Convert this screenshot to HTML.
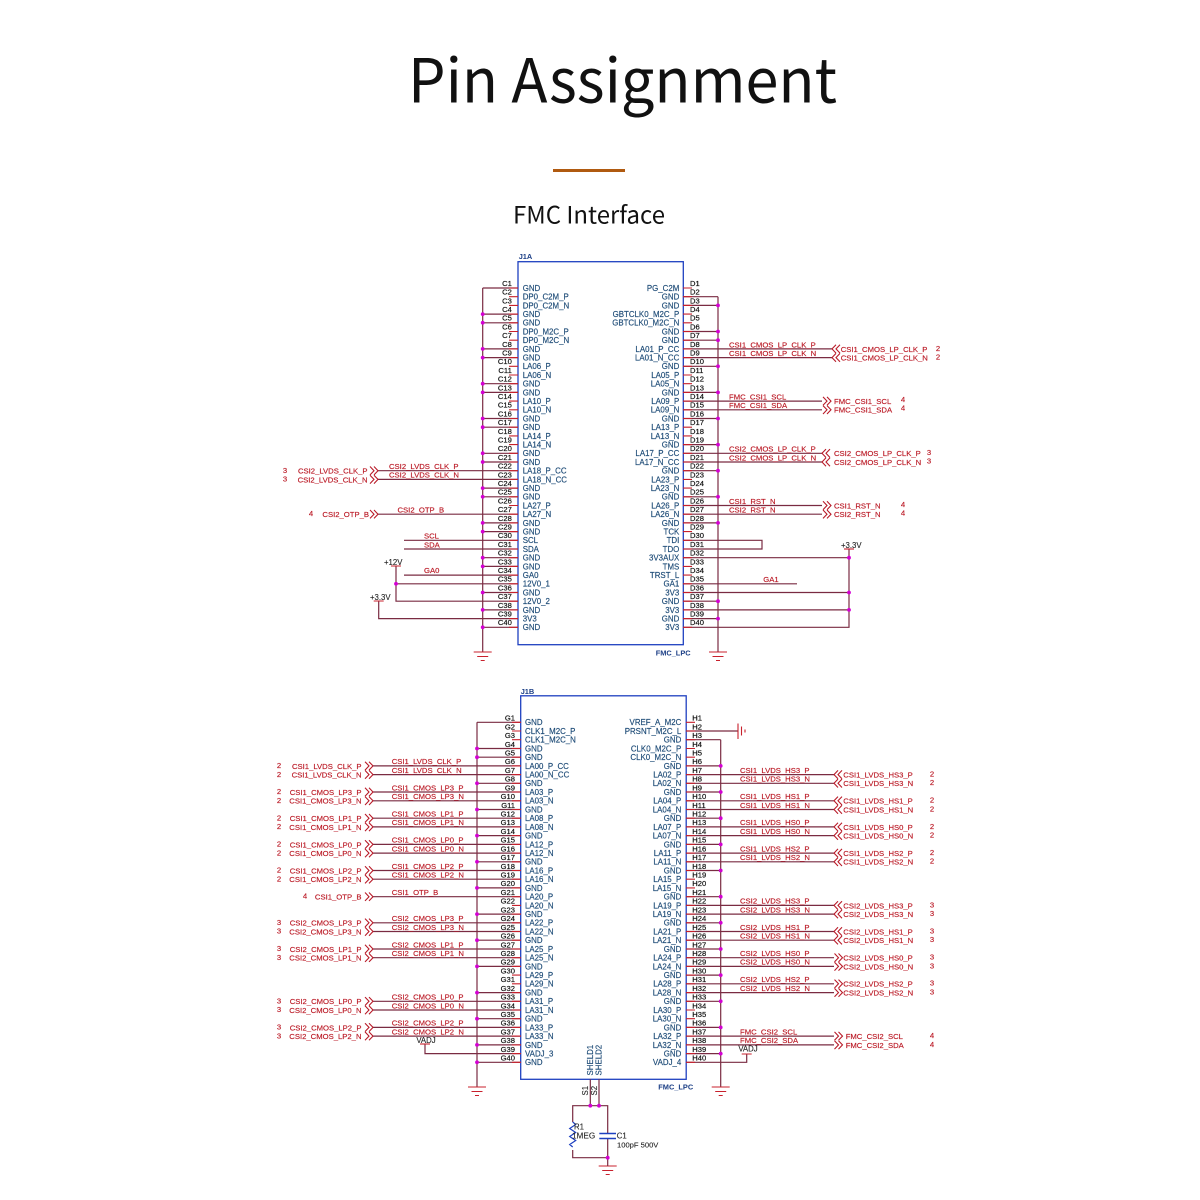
<!DOCTYPE html>
<html><head><meta charset="utf-8"><title>Pin Assignment</title>
<style>
html,body{margin:0;padding:0;background:#fff}
svg{display:block}
text{font-family:"Liberation Sans",sans-serif;dominant-baseline:central}
g text{transform:translateY(.4px)}
.h{font-family:"Noto Sans CJK SC","Liberation Sans",sans-serif;fill:#111;dominant-baseline:auto}
.n{font-size:7.6px;fill:#151515;stroke:#151515;stroke-width:.2}
.p{font-size:7.9px;fill:#1c4a76;stroke:#1c4a76;stroke-width:.15}
.r{font-size:7.7px;fill:#bb1a26;stroke:#bb1a26;stroke-width:.15}
.b{font-size:7.4px;fill:#1c3f86;font-weight:bold}
.k{font-size:7.8px;fill:#222;stroke:#222;stroke-width:.1}
.e{text-anchor:end}
.c{text-anchor:middle}
.w{fill:none;stroke:#7a2b42;stroke-width:1.2}
.s{fill:none;stroke:#c8202c;stroke-width:1.1}
.a{fill:none;stroke:#b81a28;stroke-width:1.1}
.d{fill:#d400d4}
</style></head><body>
<svg xmlns="http://www.w3.org/2000/svg" width="1200" height="1200" viewBox="0 0 1200 1200">
<defs>
<path id="R" d="M-8-4.2l4 4.2-4 4.2M-4-4.2l4 4.2-4 4.2"/>
<path id="L" d="M8-4.2l-4 4.2 4 4.2M4-4.2l-4 4.2 4 4.2"/>
<path id="G" d="M-9 0h18M-5.5 4.5h11M-2 8.5h4"/>
<circle id="o" r="1.9"/>
</defs>
<rect width="1200" height="1200" fill="#fff"/>

<text class="h" x="408" y="102.7" font-size="61" textLength="429" lengthAdjust="spacingAndGlyphs">Pin Assignment</text>
<rect x="553" y="169" width="72" height="3" fill="#b05a10"/>
<text class="h" x="513" y="223.3" font-size="24" textLength="152" lengthAdjust="spacingAndGlyphs">FMC Interface</text>

<!-- J1A -->
<rect x="518" y="261.7" width="165.3" height="383" fill="none" stroke="#1e40c0" stroke-width="1.3"/>
<text class="b" x="518.7" y="256.7">J1A</text>
<text class="b" x="655.7" y="653">FMC_LPC</text>

<path class="w" d="M482.7 288V652M482.7 288H518M482.7 314.1H518M482.7 322.8H518M482.7 348.9H518M482.7 357.6H518M482.7 383.7H518M482.7 392.4H518M482.7 418.5H518M482.7 427.2H518M482.7 453.3H518M482.7 462H518M482.7 488.1H518M482.7 496.8H518M482.7 522.9H518M482.7 531.6H518M482.7 557.7H518M482.7 566.4H518M482.7 592.5H518M482.7 609.9H518M482.7 627.3H518M378 470.7H518M378 479.4H518M378 514.2H518M404 540.3H518M404 549H518M404 575.1H518M396 566V601.2H518M396 583.8H518M378.7 601V618.6H518"/>
<path class="s" d="M391 566h10M373.7 601h10"/>
<path class="w" d="M718 296.7V652M683 296.7H718M683 305.4H718M683 331.5H718M683 340.2H718M683 366.3H718M683 392.4H718M683 418.5H718M683 444.6H718M683 470.7H718M683 496.8H718M683 522.9H718M683 601.2H718M683 618.6H718M683 348.9H832M683 357.6H832M683 401.1H822M683 409.8H822M683 453.3H822M683 462H822M683 505.5H822M683 514.2H822M683 540.3H762V549H683M683 557.7H849M849 549V627.3H683M683 592.5H849M683 609.9H849M683 583.8H797"/>
<path class="s" d="M844 549h10"/>
<!-- J1A stubs -->
<path class="s" d="M509 288h9M509 296.7h9M509 305.4h9M509 314.1h9M509 322.8h9M509 331.5h9M509 340.2h9M509 348.9h9M509 357.6h9M509 366.3h9M509 375h9M509 383.7h9M509 392.4h9M509 401.1h9M509 409.8h9M509 418.5h9M509 427.2h9M509 435.9h9M509 444.6h9M509 453.3h9M509 462h9M509 470.7h9M509 479.4h9M509 488.1h9M509 496.8h9M509 505.5h9M509 514.2h9M509 522.9h9M509 531.6h9M509 540.3h9M509 549h9M509 557.7h9M509 566.4h9M509 575.1h9M509 583.8h9M509 592.5h9M509 601.2h9M509 609.9h9M509 618.6h9M509 627.3h9"/>
<path class="s" d="M683 288h9M683 296.7h9M683 305.4h9M683 314.1h9M683 322.8h9M683 331.5h9M683 340.2h9M683 348.9h9M683 357.6h9M683 366.3h9M683 375h9M683 383.7h9M683 392.4h9M683 401.1h9M683 409.8h9M683 418.5h9M683 427.2h9M683 435.9h9M683 444.6h9M683 453.3h9M683 462h9M683 470.7h9M683 479.4h9M683 488.1h9M683 496.8h9M683 505.5h9M683 514.2h9M683 522.9h9M683 531.6h9M683 540.3h9M683 549h9M683 557.7h9M683 566.4h9M683 575.1h9M683 583.8h9M683 592.5h9M683 601.2h9M683 609.9h9M683 618.6h9M683 627.3h9"/>

<g class="s"><use href="#G" x="482.7" y="652"/><use href="#G" x="718" y="652"/></g>
<g class="d">
<g transform="translate(482.7,0)"><use href="#o" y="314.1"/><use href="#o" y="322.8"/><use href="#o" y="348.9"/><use href="#o" y="357.6"/><use href="#o" y="383.7"/><use href="#o" y="392.4"/><use href="#o" y="418.5"/><use href="#o" y="427.2"/><use href="#o" y="453.3"/><use href="#o" y="462"/><use href="#o" y="488.1"/><use href="#o" y="496.8"/><use href="#o" y="522.9"/><use href="#o" y="531.6"/><use href="#o" y="557.7"/><use href="#o" y="566.4"/><use href="#o" y="592.5"/><use href="#o" y="609.9"/><use href="#o" y="627.3"/></g>
<use href="#o" x="396" y="583.8"/>
<g transform="translate(718,0)"><use href="#o" y="305.4"/><use href="#o" y="331.5"/><use href="#o" y="340.2"/><use href="#o" y="366.3"/><use href="#o" y="392.4"/><use href="#o" y="418.5"/><use href="#o" y="444.6"/><use href="#o" y="470.7"/><use href="#o" y="496.8"/><use href="#o" y="522.9"/><use href="#o" y="601.2"/><use href="#o" y="618.6"/></g>
<g transform="translate(849,0)"><use href="#o" y="557.7"/><use href="#o" y="592.5"/><use href="#o" y="609.9"/></g>
</g>

<g class="n e" transform="translate(511.8,-5)"><text y="288">C1</text><text y="296.7">C2</text><text y="305.4">C3</text><text y="314.1">C4</text><text y="322.8">C5</text><text y="331.5">C6</text><text y="340.2">C7</text><text y="348.9">C8</text><text y="357.6">C9</text><text y="366.3">C10</text><text y="375">C11</text><text y="383.7">C12</text><text y="392.4">C13</text><text y="401.1">C14</text><text y="409.8">C15</text><text y="418.5">C16</text><text y="427.2">C17</text><text y="435.9">C18</text><text y="444.6">C19</text><text y="453.3">C20</text><text y="462">C21</text><text y="470.7">C22</text><text y="479.4">C23</text><text y="488.1">C24</text><text y="496.8">C25</text><text y="505.5">C26</text><text y="514.2">C27</text><text y="522.9">C28</text><text y="531.6">C29</text><text y="540.3">C30</text><text y="549">C31</text><text y="557.7">C32</text><text y="566.4">C33</text><text y="575.1">C34</text><text y="583.8">C35</text><text y="592.5">C36</text><text y="601.2">C37</text><text y="609.9">C38</text><text y="618.6">C39</text><text y="627.3">C40</text></g>
<g class="p" transform="translate(522.7,0)"><text y="288">GND</text><text y="296.7">DP0_C2M_P</text><text y="305.4">DP0_C2M_N</text><text y="314.1">GND</text><text y="322.8">GND</text><text y="331.5">DP0_M2C_P</text><text y="340.2">DP0_M2C_N</text><text y="348.9">GND</text><text y="357.6">GND</text><text y="366.3">LA06_P</text><text y="375">LA06_N</text><text y="383.7">GND</text><text y="392.4">GND</text><text y="401.1">LA10_P</text><text y="409.8">LA10_N</text><text y="418.5">GND</text><text y="427.2">GND</text><text y="435.9">LA14_P</text><text y="444.6">LA14_N</text><text y="453.3">GND</text><text y="462">GND</text><text y="470.7">LA18_P_CC</text><text y="479.4">LA18_N_CC</text><text y="488.1">GND</text><text y="496.8">GND</text><text y="505.5">LA27_P</text><text y="514.2">LA27_N</text><text y="522.9">GND</text><text y="531.6">GND</text><text y="540.3">SCL</text><text y="549">SDA</text><text y="557.7">GND</text><text y="566.4">GND</text><text y="575.1">GA0</text><text y="583.8">12V0_1</text><text y="592.5">GND</text><text y="601.2">12V0_2</text><text y="609.9">GND</text><text y="618.6">3V3</text><text y="627.3">GND</text></g>
<g class="n" transform="translate(690,-5)"><text y="288">D1</text><text y="296.7">D2</text><text y="305.4">D3</text><text y="314.1">D4</text><text y="322.8">D5</text><text y="331.5">D6</text><text y="340.2">D7</text><text y="348.9">D8</text><text y="357.6">D9</text><text y="366.3">D10</text><text y="375">D11</text><text y="383.7">D12</text><text y="392.4">D13</text><text y="401.1">D14</text><text y="409.8">D15</text><text y="418.5">D16</text><text y="427.2">D17</text><text y="435.9">D18</text><text y="444.6">D19</text><text y="453.3">D20</text><text y="462">D21</text><text y="470.7">D22</text><text y="479.4">D23</text><text y="488.1">D24</text><text y="496.8">D25</text><text y="505.5">D26</text><text y="514.2">D27</text><text y="522.9">D28</text><text y="531.6">D29</text><text y="540.3">D30</text><text y="549">D31</text><text y="557.7">D32</text><text y="566.4">D33</text><text y="575.1">D34</text><text y="583.8">D35</text><text y="592.5">D36</text><text y="601.2">D37</text><text y="609.9">D38</text><text y="618.6">D39</text><text y="627.3">D40</text></g>
<g class="p e" transform="translate(679.3,0)"><text y="288">PG_C2M</text><text y="296.7">GND</text><text y="305.4">GND</text><text y="314.1">GBTCLK0_M2C_P</text><text y="322.8">GBTCLK0_M2C_N</text><text y="331.5">GND</text><text y="340.2">GND</text><text y="348.9">LA01_P_CC</text><text y="357.6">LA01_N_CC</text><text y="366.3">GND</text><text y="375">LA05_P</text><text y="383.7">LA05_N</text><text y="392.4">GND</text><text y="401.1">LA09_P</text><text y="409.8">LA09_N</text><text y="418.5">GND</text><text y="427.2">LA13_P</text><text y="435.9">LA13_N</text><text y="444.6">GND</text><text y="453.3">LA17_P_CC</text><text y="462">LA17_N_CC</text><text y="470.7">GND</text><text y="479.4">LA23_P</text><text y="488.1">LA23_N</text><text y="496.8">GND</text><text y="505.5">LA26_P</text><text y="514.2">LA26_N</text><text y="522.9">GND</text><text y="531.6">TCK</text><text y="540.3">TDI</text><text y="549">TDO</text><text y="557.7">3V3AUX</text><text y="566.4">TMS</text><text y="575.1">TRST_L</text><text y="583.8">GA1</text><text y="592.5">3V3</text><text y="601.2">GND</text><text y="609.9">3V3</text><text y="618.6">GND</text><text y="627.3">3V3</text></g>

<!-- J1A nets -->
<g class="a"><use href="#R" x="378" y="470.7"/><use href="#R" x="378" y="479.4"/><use href="#R" x="378" y="514.2"/>
<use href="#L" x="832" y="348.9"/><use href="#L" x="832" y="357.6"/><use href="#R" x="831" y="401.1"/><use href="#R" x="831" y="409.8"/><use href="#L" x="822" y="453.3"/><use href="#L" x="822" y="462"/><use href="#R" x="831" y="505.5"/><use href="#R" x="831" y="514.2"/></g>
<g class="r">
<text x="285" y="470" class="c">3</text><text x="285" y="478.7" class="c">3</text>
<text x="367.5" y="470.7" class="e">CSI2_LVDS_CLK_P</text><text x="367.5" y="479.4" class="e">CSI2_LVDS_CLK_N</text>
<text x="389" y="466">CSI2_LVDS_CLK_P</text><text x="389" y="474.7">CSI2_LVDS_CLK_N</text>
<text x="311" y="513" class="c">4</text><text x="369" y="514.2" class="e">CSI2_OTP_B</text><text x="397.5" y="509.5">CSI2_OTP_B</text>
<text x="424" y="535.7">SCL</text><text x="424" y="544.5">SDA</text><text x="424" y="570.3">GA0</text>
<text x="729" y="344.4">CSI1_CMOS_LP_CLK_P</text><text x="729" y="353.1">CSI1_CMOS_LP_CLK_N</text>
<text x="840.7" y="348.9">CSI1_CMOS_LP_CLK_P</text><text x="840.7" y="357.6">CSI1_CMOS_LP_CLK_N</text>
<text x="938" y="348" class="c">2</text><text x="938" y="356.7" class="c">2</text>
<text x="729" y="396.6">FMC_CSI1_SCL</text><text x="729" y="405.3">FMC_CSI1_SDA</text>
<text x="834" y="401.1">FMC_CSI1_SCL</text><text x="834" y="409.8">FMC_CSI1_SDA</text>
<text x="903" y="399" class="c">4</text><text x="903" y="407.7" class="c">4</text>
<text x="729" y="448.8">CSI2_CMOS_LP_CLK_P</text><text x="729" y="457.5">CSI2_CMOS_LP_CLK_N</text>
<text x="834" y="453.3">CSI2_CMOS_LP_CLK_P</text><text x="834" y="462">CSI2_CMOS_LP_CLK_N</text>
<text x="929" y="452" class="c">3</text><text x="929" y="460.7" class="c">3</text>
<text x="729" y="501">CSI1_RST_N</text><text x="729" y="509.7">CSI2_RST_N</text>
<text x="834" y="505.5">CSI1_RST_N</text><text x="834" y="514.2">CSI2_RST_N</text>
<text x="903" y="504" class="c">4</text><text x="903" y="512.7" class="c">4</text>
<text x="763.3" y="579.3">GA1</text>
</g>
<g class="k"><text x="384" y="562">+12V</text><text x="370" y="597">+3.3V</text><text x="841" y="545">+3.3V</text></g>

<!-- J1B -->
<rect x="520.7" y="695.8" width="165.5" height="383.5" fill="none" stroke="#1e40c0" stroke-width="1.3"/>
<text class="b" x="520.7" y="691.7">J1B</text>
<text class="b" x="658.3" y="1087">FMC_LPC</text>

<path class="w" d="M477 722.3V1087M477 722.3H520.7M477 748.5H520.7M477 757.2H520.7M477 783.3H520.7M477 809.5H520.7M477 835.6H520.7M477 861.8H520.7M477 887.9H520.7M477 914.1H520.7M477 940.2H520.7M477 966.4H520.7M477 992.6H520.7M477 1018.7H520.7M477 1044.9H520.7M477 1062.3H520.7M373 765.9H520.7M373 774.6H520.7M373 792H520.7M373 800.8H520.7M373 818.2H520.7M373 826.9H520.7M373 844.4H520.7M373 853.1H520.7M373 870.5H520.7M373 879.2H520.7M373 896.7H520.7M373 922.8H520.7M373 931.5H520.7M373 949H520.7M373 957.7H520.7M373 1001.3H520.7M373 1010H520.7M373 1027.4H520.7M373 1036.1H520.7M425 1044V1053.6H520.7"/>
<path class="s" d="M420 1044h10"/>
<path class="w" d="M720.7 739.7V1087M686 739.7H720.7M686 765.9H720.7M686 792H720.7M686 818.2H720.7M686 844.4H720.7M686 870.5H720.7M686 896.7H720.7M686 922.8H720.7M686 949H720.7M686 975.1H720.7M686 1001.3H720.7M686 1027.4H720.7M686 1053.6H720.7M686 731H738M686 774.6H834M686 783.3H834M686 800.8H834M686 809.5H834M686 826.9H834M686 835.6H834M686 853.1H834M686 861.8H834M686 905.4H834M686 914.1H834M686 931.5H834M686 940.2H834M686 957.7H834M686 966.4H834M686 983.8H834M686 992.6H834M686 1036.1H834M686 1044.9H834M686 1062.3H746.7V1054"/>
<path class="s" d="M741.7 1054h10M738 723.5v15.5M741.5 726.5v9M745 729.5v3"/>
<!-- J1B stubs -->
<path class="s" d="M512 722.3h9M512 731h9M512 739.7h9M512 748.5h9M512 757.2h9M512 765.9h9M512 774.6h9M512 783.3h9M512 792h9M512 800.8h9M512 809.5h9M512 818.2h9M512 826.9h9M512 835.6h9M512 844.4h9M512 853.1h9M512 861.8h9M512 870.5h9M512 879.2h9M512 887.9h9M512 896.7h9M512 905.4h9M512 914.1h9M512 922.8h9M512 931.5h9M512 940.2h9M512 949h9M512 957.7h9M512 966.4h9M512 975.1h9M512 983.8h9M512 992.6h9M512 1001.3h9M512 1010h9M512 1018.7h9M512 1027.4h9M512 1036.1h9M512 1044.9h9M512 1053.6h9M512 1062.3h9"/>
<path class="s" d="M686 722.3h9M686 731h9M686 739.7h9M686 748.5h9M686 757.2h9M686 765.9h9M686 774.6h9M686 783.3h9M686 792h9M686 800.8h9M686 809.5h9M686 818.2h9M686 826.9h9M686 835.6h9M686 844.4h9M686 853.1h9M686 861.8h9M686 870.5h9M686 879.2h9M686 887.9h9M686 896.7h9M686 905.4h9M686 914.1h9M686 922.8h9M686 931.5h9M686 940.2h9M686 949h9M686 957.7h9M686 966.4h9M686 975.1h9M686 983.8h9M686 992.6h9M686 1001.3h9M686 1010h9M686 1018.7h9M686 1027.4h9M686 1036.1h9M686 1044.9h9M686 1053.6h9M686 1062.3h9"/>
<g class="s"><use href="#G" x="477" y="1087"/><use href="#G" x="720.7" y="1087"/><use href="#G" x="607.7" y="1166"/></g>

<g class="d">
<g transform="translate(477,0)"><use href="#o" y="748.5"/><use href="#o" y="757.2"/><use href="#o" y="783.3"/><use href="#o" y="809.5"/><use href="#o" y="835.6"/><use href="#o" y="861.8"/><use href="#o" y="887.9"/><use href="#o" y="914.1"/><use href="#o" y="940.2"/><use href="#o" y="966.4"/><use href="#o" y="992.6"/><use href="#o" y="1018.7"/><use href="#o" y="1044.9"/><use href="#o" y="1062.3"/></g>
<g transform="translate(720.7,0)"><use href="#o" y="765.9"/><use href="#o" y="792"/><use href="#o" y="818.2"/><use href="#o" y="844.4"/><use href="#o" y="870.5"/><use href="#o" y="896.7"/><use href="#o" y="922.8"/><use href="#o" y="949"/><use href="#o" y="975.1"/><use href="#o" y="1001.3"/><use href="#o" y="1027.4"/><use href="#o" y="1053.6"/></g>
</g>

<g class="n e" transform="translate(515,-4.6)"><text y="722.3">G1</text><text y="731">G2</text><text y="739.7">G3</text><text y="748.5">G4</text><text y="757.2">G5</text><text y="765.9">G6</text><text y="774.6">G7</text><text y="783.3">G8</text><text y="792">G9</text><text y="800.8">G10</text><text y="809.5">G11</text><text y="818.2">G12</text><text y="826.9">G13</text><text y="835.6">G14</text><text y="844.4">G15</text><text y="853.1">G16</text><text y="861.8">G17</text><text y="870.5">G18</text><text y="879.2">G19</text><text y="887.9">G20</text><text y="896.7">G21</text><text y="905.4">G22</text><text y="914.1">G23</text><text y="922.8">G24</text><text y="931.5">G25</text><text y="940.2">G26</text><text y="949">G27</text><text y="957.7">G28</text><text y="966.4">G29</text><text y="975.1">G30</text><text y="983.8">G31</text><text y="992.6">G32</text><text y="1001.3">G33</text><text y="1010">G34</text><text y="1018.7">G35</text><text y="1027.4">G36</text><text y="1036.1">G37</text><text y="1044.9">G38</text><text y="1053.6">G39</text><text y="1062.3">G40</text></g>
<g class="p" transform="translate(525,0)"><text y="722.3">GND</text><text y="731">CLK1_M2C_P</text><text y="739.7">CLK1_M2C_N</text><text y="748.5">GND</text><text y="757.2">GND</text><text y="765.9">LA00_P_CC</text><text y="774.6">LA00_N_CC</text><text y="783.3">GND</text><text y="792">LA03_P</text><text y="800.8">LA03_N</text><text y="809.5">GND</text><text y="818.2">LA08_P</text><text y="826.9">LA08_N</text><text y="835.6">GND</text><text y="844.4">LA12_P</text><text y="853.1">LA12_N</text><text y="861.8">GND</text><text y="870.5">LA16_P</text><text y="879.2">LA16_N</text><text y="887.9">GND</text><text y="896.7">LA20_P</text><text y="905.4">LA20_N</text><text y="914.1">GND</text><text y="922.8">LA22_P</text><text y="931.5">LA22_N</text><text y="940.2">GND</text><text y="949">LA25_P</text><text y="957.7">LA25_N</text><text y="966.4">GND</text><text y="975.1">LA29_P</text><text y="983.8">LA29_N</text><text y="992.6">GND</text><text y="1001.3">LA31_P</text><text y="1010">LA31_N</text><text y="1018.7">GND</text><text y="1027.4">LA33_P</text><text y="1036.1">LA33_N</text><text y="1044.9">GND</text><text y="1053.6">VADJ_3</text><text y="1062.3">GND</text></g>
<g class="n" transform="translate(692.3,-4.6)"><text y="722.3">H1</text><text y="731">H2</text><text y="739.7">H3</text><text y="748.5">H4</text><text y="757.2">H5</text><text y="765.9">H6</text><text y="774.6">H7</text><text y="783.3">H8</text><text y="792">H9</text><text y="800.8">H10</text><text y="809.5">H11</text><text y="818.2">H12</text><text y="826.9">H13</text><text y="835.6">H14</text><text y="844.4">H15</text><text y="853.1">H16</text><text y="861.8">H17</text><text y="870.5">H18</text><text y="879.2">H19</text><text y="887.9">H20</text><text y="896.7">H21</text><text y="905.4">H22</text><text y="914.1">H23</text><text y="922.8">H24</text><text y="931.5">H25</text><text y="940.2">H26</text><text y="949">H27</text><text y="957.7">H28</text><text y="966.4">H29</text><text y="975.1">H30</text><text y="983.8">H31</text><text y="992.6">H32</text><text y="1001.3">H33</text><text y="1010">H34</text><text y="1018.7">H35</text><text y="1027.4">H36</text><text y="1036.1">H37</text><text y="1044.9">H38</text><text y="1053.6">H39</text><text y="1062.3">H40</text></g>
<g class="p e" transform="translate(681.3,0)"><text y="722.3">VREF_A_M2C</text><text y="731">PRSNT_M2C_L</text><text y="739.7">GND</text><text y="748.5">CLK0_M2C_P</text><text y="757.2">CLK0_M2C_N</text><text y="765.9">GND</text><text y="774.6">LA02_P</text><text y="783.3">LA02_N</text><text y="792">GND</text><text y="800.8">LA04_P</text><text y="809.5">LA04_N</text><text y="818.2">GND</text><text y="826.9">LA07_P</text><text y="835.6">LA07_N</text><text y="844.4">GND</text><text y="853.1">LA11_P</text><text y="861.8">LA11_N</text><text y="870.5">GND</text><text y="879.2">LA15_P</text><text y="887.9">LA15_N</text><text y="896.7">GND</text><text y="905.4">LA19_P</text><text y="914.1">LA19_N</text><text y="922.8">GND</text><text y="931.5">LA21_P</text><text y="940.2">LA21_N</text><text y="949">GND</text><text y="957.7">LA24_P</text><text y="966.4">LA24_N</text><text y="975.1">GND</text><text y="983.8">LA28_P</text><text y="992.6">LA28_N</text><text y="1001.3">GND</text><text y="1010">LA30_P</text><text y="1018.7">LA30_N</text><text y="1027.4">GND</text><text y="1036.1">LA32_P</text><text y="1044.9">LA32_N</text><text y="1053.6">GND</text><text y="1062.3">VADJ_4</text></g>

<!-- J1B left nets -->
<g class="a" transform="translate(373,0)"><use href="#R" y="765.9"/><use href="#R" y="774.6"/><use href="#R" y="792"/><use href="#R" y="800.8"/><use href="#R" y="818.2"/><use href="#R" y="826.9"/><use href="#R" y="844.4"/><use href="#R" y="853.1"/><use href="#R" y="870.5"/><use href="#R" y="879.2"/><use href="#R" y="896.7"/><use href="#R" y="922.8"/><use href="#R" y="931.5"/><use href="#R" y="949"/><use href="#R" y="957.7"/><use href="#R" y="1001.3"/><use href="#R" y="1010"/><use href="#R" y="1027.4"/><use href="#R" y="1036.1"/></g>
<g class="r e" transform="translate(361.5,0)"><text y="765.9">CSI1_LVDS_CLK_P</text><text y="774.6">CSI1_LVDS_CLK_N</text><text y="792">CSI1_CMOS_LP3_P</text><text y="800.8">CSI1_CMOS_LP3_N</text><text y="818.2">CSI1_CMOS_LP1_P</text><text y="826.9">CSI1_CMOS_LP1_N</text><text y="844.4">CSI1_CMOS_LP0_P</text><text y="853.1">CSI1_CMOS_LP0_N</text><text y="870.5">CSI1_CMOS_LP2_P</text><text y="879.2">CSI1_CMOS_LP2_N</text><text y="896.7">CSI1_OTP_B</text><text y="922.8">CSI2_CMOS_LP3_P</text><text y="931.5">CSI2_CMOS_LP3_N</text><text y="949">CSI2_CMOS_LP1_P</text><text y="957.7">CSI2_CMOS_LP1_N</text><text y="1001.3">CSI2_CMOS_LP0_P</text><text y="1010">CSI2_CMOS_LP0_N</text><text y="1027.4">CSI2_CMOS_LP2_P</text><text y="1036.1">CSI2_CMOS_LP2_N</text></g>
<g class="r" transform="translate(391.7,-4.6)"><text y="765.9">CSI1_LVDS_CLK_P</text><text y="774.6">CSI1_LVDS_CLK_N</text><text y="792">CSI1_CMOS_LP3_P</text><text y="800.8">CSI1_CMOS_LP3_N</text><text y="818.2">CSI1_CMOS_LP1_P</text><text y="826.9">CSI1_CMOS_LP1_N</text><text y="844.4">CSI1_CMOS_LP0_P</text><text y="853.1">CSI1_CMOS_LP0_N</text><text y="870.5">CSI1_CMOS_LP2_P</text><text y="879.2">CSI1_CMOS_LP2_N</text><text y="896.7">CSI1_OTP_B</text><text y="922.8">CSI2_CMOS_LP3_P</text><text y="931.5">CSI2_CMOS_LP3_N</text><text y="949">CSI2_CMOS_LP1_P</text><text y="957.7">CSI2_CMOS_LP1_N</text><text y="1001.3">CSI2_CMOS_LP0_P</text><text y="1010">CSI2_CMOS_LP0_N</text><text y="1027.4">CSI2_CMOS_LP2_P</text><text y="1036.1">CSI2_CMOS_LP2_N</text></g>
<g class="r c" transform="translate(279,-.7)"><text y="765.9">2</text><text y="774.6">2</text><text y="792">2</text><text y="800.8">2</text><text y="818.2">2</text><text y="826.9">2</text><text y="844.4">2</text><text y="853.1">2</text><text y="870.5">2</text><text y="879.2">2</text><text y="922.8">3</text><text y="931.5">3</text><text y="949">3</text><text y="957.7">3</text><text y="1001.3">3</text><text y="1010">3</text><text y="1027.4">3</text><text y="1036.1">3</text></g>
<text class="r c" x="305" y="896">4</text>
<text class="k c" x="426" y="1040.7">VADJ</text>

<!-- J1B right nets -->
<g class="a"><g transform="translate(834,0)"><use href="#L" y="774.6"/><use href="#L" y="783.3"/><use href="#L" y="800.8"/><use href="#L" y="809.5"/><use href="#L" y="826.9"/><use href="#L" y="835.6"/><use href="#L" y="853.1"/><use href="#L" y="861.8"/><use href="#L" y="905.4"/><use href="#L" y="914.1"/><use href="#L" y="931.5"/><use href="#L" y="940.2"/></g>
<g transform="translate(842.5,0)"><use href="#R" y="957.7"/><use href="#R" y="966.4"/><use href="#R" y="983.8"/><use href="#R" y="992.6"/><use href="#R" y="1036.1"/><use href="#R" y="1044.9"/></g></g>
<g class="r" transform="translate(740,-4.6)"><text y="774.6">CSI1_LVDS_HS3_P</text><text y="783.3">CSI1_LVDS_HS3_N</text><text y="800.8">CSI1_LVDS_HS1_P</text><text y="809.5">CSI1_LVDS_HS1_N</text><text y="826.9">CSI1_LVDS_HS0_P</text><text y="835.6">CSI1_LVDS_HS0_N</text><text y="853.1">CSI1_LVDS_HS2_P</text><text y="861.8">CSI1_LVDS_HS2_N</text><text y="905.4">CSI2_LVDS_HS3_P</text><text y="914.1">CSI2_LVDS_HS3_N</text><text y="931.5">CSI2_LVDS_HS1_P</text><text y="940.2">CSI2_LVDS_HS1_N</text><text y="957.7">CSI2_LVDS_HS0_P</text><text y="966.4">CSI2_LVDS_HS0_N</text><text y="983.8">CSI2_LVDS_HS2_P</text><text y="992.6">CSI2_LVDS_HS2_N</text><text y="1036.1">FMC_CSI2_SCL</text><text y="1044.9">FMC_CSI2_SDA</text></g>
<g class="r" transform="translate(843.3,0)"><text y="774.6">CSI1_LVDS_HS3_P</text><text y="783.3">CSI1_LVDS_HS3_N</text><text y="800.8">CSI1_LVDS_HS1_P</text><text y="809.5">CSI1_LVDS_HS1_N</text><text y="826.9">CSI1_LVDS_HS0_P</text><text y="835.6">CSI1_LVDS_HS0_N</text><text y="853.1">CSI1_LVDS_HS2_P</text><text y="861.8">CSI1_LVDS_HS2_N</text><text y="905.4">CSI2_LVDS_HS3_P</text><text y="914.1">CSI2_LVDS_HS3_N</text><text y="931.5">CSI2_LVDS_HS1_P</text><text y="940.2">CSI2_LVDS_HS1_N</text><text y="957.7">CSI2_LVDS_HS0_P</text><text y="966.4">CSI2_LVDS_HS0_N</text><text y="983.8">CSI2_LVDS_HS2_P</text><text y="992.6">CSI2_LVDS_HS2_N</text><text x="2.4" y="1036.1">FMC_CSI2_SCL</text><text x="2.4" y="1044.9">FMC_CSI2_SDA</text></g>
<g class="r c" transform="translate(932,-1)"><text y="774.6">2</text><text y="783.3">2</text><text y="800.8">2</text><text y="809.5">2</text><text y="826.9">2</text><text y="835.6">2</text><text y="853.1">2</text><text y="861.8">2</text><text y="905.4">3</text><text y="914.1">3</text><text y="931.5">3</text><text y="940.2">3</text><text y="957.7">3</text><text y="966.4">3</text><text y="983.8">3</text><text y="992.6">3</text><text y="1036.1">4</text><text y="1044.9">4</text></g>
<text class="k c" x="748" y="1049">VADJ</text>

<!-- Shield network -->
<path class="w" d="M590.3 1079.3V1105.7M599 1079.3V1105.7M572.7 1122V1105.7H607.7V1133M607.7 1138.5V1157.7M572.7 1150V1157.7H607.7V1166"/>
<path fill="none" stroke="#1e40c0" stroke-width="1.2" d="M572.7 1122l3 2.5-6 4 6 4-6 4 6 4-6 4 3 2.5"/>
<path fill="none" stroke="#1e40c0" stroke-width="1.4" d="M599.3 1133.5h16.7M599.3 1138.5h16.7"/>
<g class="d"><use href="#o" x="590.3" y="1105.7"/><use href="#o" x="599" y="1105.7"/><use href="#o" x="607.7" y="1157.7"/></g>
<text class="p" transform="translate(590.3,1075.5) rotate(-90)">SHELD1</text>
<text class="p" transform="translate(599,1075.5) rotate(-90)">SHELD2</text>
<text class="k" transform="translate(585.7,1095.5) rotate(-90)">S1</text>
<text class="k" transform="translate(594.3,1095.5) rotate(-90)">S2</text>
<text class="k" x="574" y="1127">R1</text><text class="k" x="572" y="1136" style="font-size:8.2px">1MEG</text><text class="k" x="616.7" y="1136">C1</text><text class="k" x="617" y="1145.2" style="font-size:7.6px">100pF 500V</text>
</svg>
</body></html>
